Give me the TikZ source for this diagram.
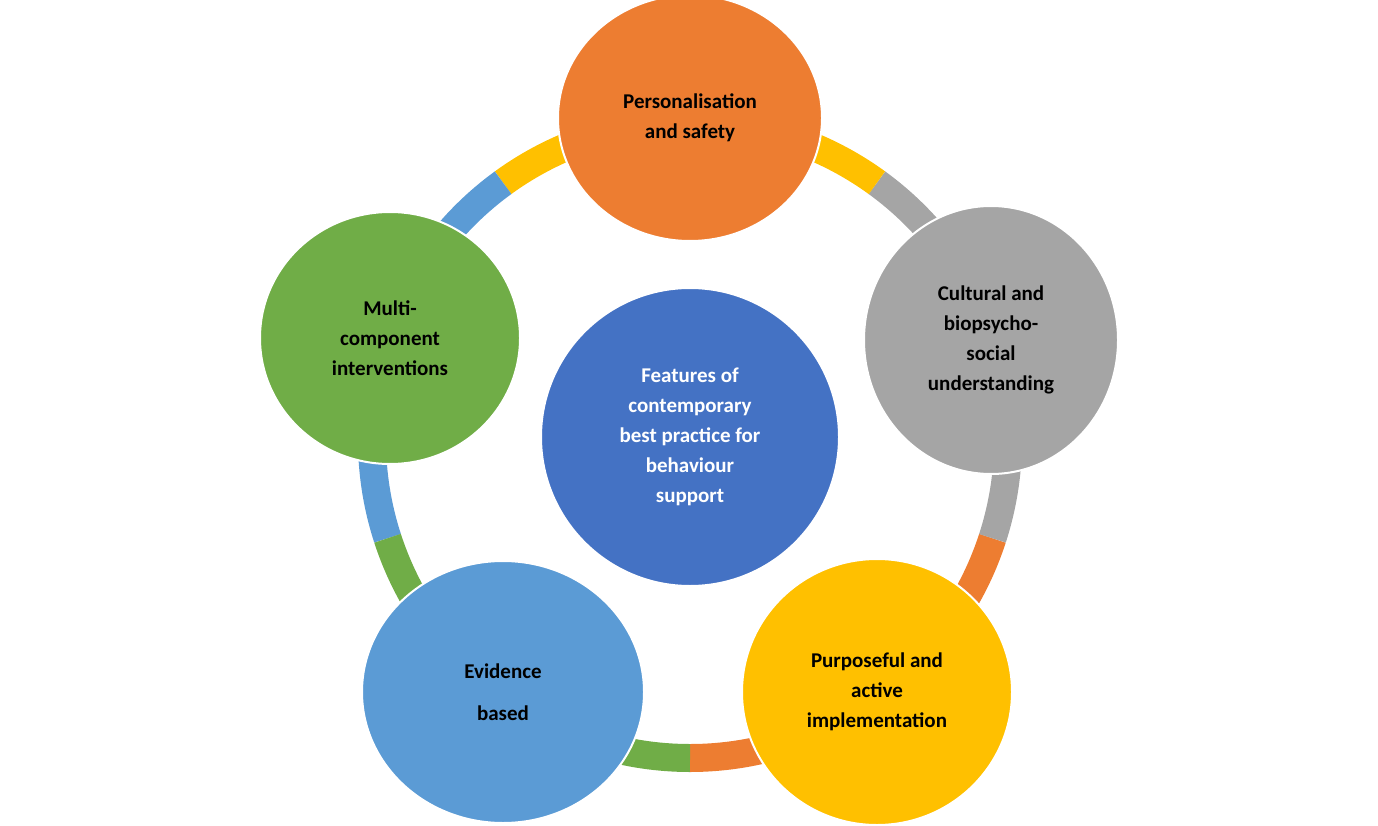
\documentclass[tikz,border=0pt]{standalone}
\usepackage{fontspec}
\setmainfont{Carlito}
\usetikzlibrary{shapes.geometric}
\definecolor{cOr}{HTML}{ED7D31}
\definecolor{cGr}{HTML}{A5A5A5}
\definecolor{cYe}{HTML}{FFC000}
\definecolor{cLb}{HTML}{5B9BD5}
\definecolor{cGn}{HTML}{70AD47}
\definecolor{cBl}{HTML}{4472C4}
\tikzset{
 bub/.style={ellipse, draw=white, line width=2pt, align=center, font=\fontsize{21}{30}\selectfont\bfseries, inner sep=0pt},
 ring/.style={line width=28pt}
}
\begin{document}
\begin{tikzpicture}[x=1pt,y=-1pt]
\useasboundingbox (0,0) rectangle (1378,826);
\coordinate (c) at (690,440);
\draw[ring,cOr] (c) ++(90:318) arc[start angle=90,end angle=18,radius=318];
\draw[ring,cGr] (c) ++(18:318) arc[start angle=18,end angle=-54,radius=318];
\draw[ring,cYe] (c) ++(-54:318) arc[start angle=-54,end angle=-126,radius=318];
\draw[ring,cLb] (c) ++(-126:318) arc[start angle=-126,end angle=-198,radius=318];
\draw[ring,cGn] (c) ++(162:318) arc[start angle=162,end angle=90,radius=318];
\node[bub,fill=cBl,text=white,minimum width=298pt,minimum height=298pt] (m) at (690,437) {Features of\\contemporary\\best practice for\\behaviour\\support};
\node[bub,fill=cOr,minimum width=264pt,minimum height=246pt] (o) at (690,118) {Personalisation\\and safety};
\node[bub,fill=cGr,minimum width=254pt,minimum height=268pt] (g) at (991,340) {Cultural and\\biopsycho-\\social\\understanding};
\node[bub,fill=cYe,minimum width=270pt,minimum height=266pt] (y) at (877,692) {Purposeful and\\active\\implementation};
\node[bub,fill=cLb,minimum width=282pt,minimum height=262pt] (l) at (503,692) {Evidence\\[12pt]based};
\node[bub,fill=cGn,minimum width=260pt,minimum height=252pt] (n) at (390,338) {Multi-\\component\\interventions};
\end{tikzpicture}
\end{document}
